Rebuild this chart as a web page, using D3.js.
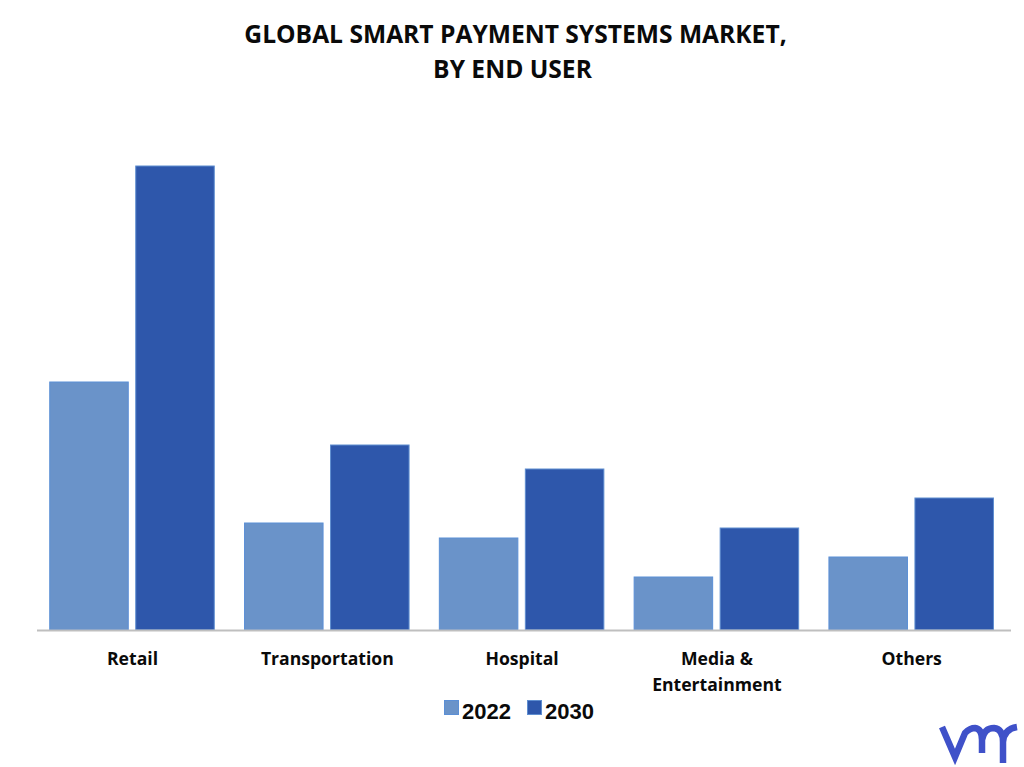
<!DOCTYPE html>
<html>
<head>
<meta charset="utf-8">
<script src="https://cdn.jsdelivr.net/npm/d3@7"></script>
<style>
  html, body { margin: 0; padding: 0; background: #fff; }
  text { fill: #0a0a0a; }
</style>
</head>
<body>
<script>
const categories = ['Retail', 'Transportation', 'Hospital', 'Media & Entertainment', 'Others'];
const years = ['2022', '2030'];
const values2022 = [248, 107, 92, 53, 73];
const values2030 = [464, 185, 161, 102, 132];
const titleLines = ['GLOBAL SMART PAYMENT SYSTEMS MARKET,', 'BY END USER'];

const colors = { 2022: '#6a93c9', 2030: '#2e57ab' };
const strokes = { 2022: '#5b8fd6', 2030: '#5f8ed0' };

const width = 1024;
const height = 767;
const baseY = 630;
const topY = 166;

const svg = d3.select('body').append('svg')
  .attr('width', width)
  .attr('height', height)
  .style('display', 'block');

// TITLE
svg.selectAll('.title')
  .data(titleLines)
  .enter()
  .append('text')
  .attr('class', 'title')
  .attr('x', (d, i) => (i === 0 ? 515.5 : 512.5))
  .attr('y', (d, i) => 43 + i * 35)
  .attr('text-anchor', 'middle')
  .style('font-family', '"Open Sans", sans-serif')
  .style('font-weight', 700)
  .style('font-size', '24.6px')
  .text(d => d);

// SCALES
const x = d3.scaleBand().domain(categories).range([34.6, 1008.6]);
const x1 = d3.scaleBand().domain(years).range([0, x.bandwidth()]).paddingInner(0.087).paddingOuter(0.176);
const y = d3.scaleLinear().domain([0, 464]).range([baseY, topY]);

// BARS
const rows = categories.map((c, i) => ({ c, 2022: values2022[i], 2030: values2030[i] }));

svg.selectAll('.group')
  .data(rows)
  .enter()
  .append('g')
  .attr('class', 'group')
  .attr('transform', d => `translate(${x(d.c)},0)`)
  .selectAll('rect')
  .data(d => years.map(k => ({ k, v: d[k] })))
  .enter()
  .append('rect')
  .attr('x', d => x1(d.k))
  .attr('y', d => y(d.v))
  .attr('width', x1.bandwidth())
  .attr('height', d => baseY - y(d.v))
  .attr('fill', d => colors[d.k])
  .attr('stroke', d => strokes[d.k])
  .attr('stroke-width', 1);

// AXIS
svg.append('line')
  .attr('x1', 37).attr('x2', 1011)
  .attr('y1', baseY + 0.5).attr('y2', baseY + 0.5)
  .attr('stroke', '#bfbfbf')
  .attr('stroke-width', 2);

const xAxis = d3.axisBottom(x).tickSize(0).tickPadding(0);
const axisG = svg.append('g')
  .attr('transform', `translate(0.5,${baseY})`)
  .call(xAxis);
axisG.select('.domain').remove();
axisG.selectAll('text')
  .style('font-family', '"Open Sans", sans-serif')
  .style('font-weight', 700)
  .style('font-size', '17.6px')
  .attr('y', 0)
  .attr('dy', 0)
  .each(function (d) {
    const parts = d === 'Media & Entertainment' ? ['Media &', 'Entertainment'] : [d];
    const t = d3.select(this).text(null);
    parts.forEach((p, i) => t.append('tspan').attr('x', 0).attr('y', 35 + i * 26).text(p));
  });

// LEGEND
const legendX = d3.scaleOrdinal().domain(years).range([444, 527]);
const legend = svg.selectAll('.legend')
  .data(years)
  .enter()
  .append('g')
  .attr('class', 'legend')
  .attr('transform', d => `translate(${legendX(d)},0)`);
legend.append('rect')
  .attr('y', 700.5)
  .attr('x', 0.5)
  .attr('width', 14)
  .attr('height', 14)
  .attr('fill', d => colors[d])
  .attr('stroke', d => strokes[d]);
legend.append('text')
  .attr('x', 18)
  .attr('y', 719)
  .style('font-family', '"Liberation Sans", Arial, sans-serif')
  .style('font-weight', 700)
  .style('font-size', '22px')
  .text(d => d);

// LOGO
svg.append('path')
  .attr('d', 'M942 727 L955 757 L965 733 Q970 728 975 728 Q982 729 982 740 L982 753 M982 740 Q984 728 994 728 Q1003 729 1003 742 L1003 763 M1003 742 Q1004 729 1017 727')
  .attr('fill', 'none')
  .attr('stroke', '#3f51c9')
  .attr('stroke-width', 6.5);
</script>
</body>
</html>
